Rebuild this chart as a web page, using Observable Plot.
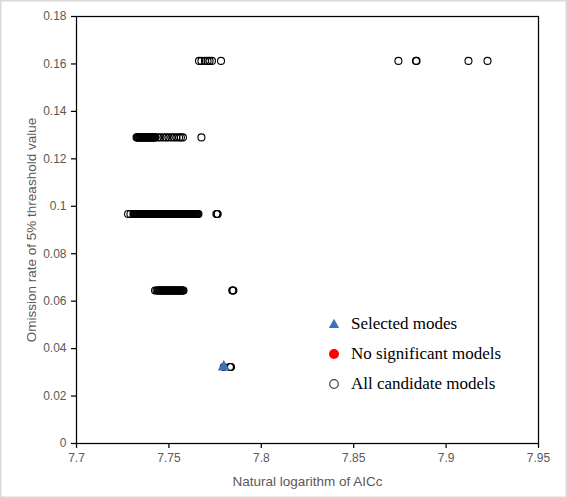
<!DOCTYPE html>
<html>
<head>
<meta charset="utf-8">
<script src="https://cdn.jsdelivr.net/npm/d3@7"></script>
<script src="https://cdn.jsdelivr.net/npm/@observablehq/plot@0.6"></script>
<style>
  body { margin: 0; background: white; }
  #wrap { position: relative; width: 567px; height: 498px; background: white; box-shadow: inset 0 0 0 1.5px #d9d9d9; }
  #chart svg { display: block; }
  #legend { position: absolute; left: 326px; top: 309px; font-family: "Liberation Serif", "Times New Roman", serif; font-size: 17px; color: #000; }
  .item { display: flex; align-items: center; height: 30px; }
  .item svg { width: 16px; height: 16px; margin-right: 9px; }
</style>
</head>
<body>
<div id="wrap">
  <div id="chart"></div>
  <div id="legend">
    <div class="item"><svg viewBox="-8 -8 16 16"><path d="M0,-5.2L5.2,4L-5.2,4Z" fill="#3b73b5"/></svg>Selected modes</div>
    <div class="item"><svg viewBox="-8 -8 16 16"><circle r="5" fill="#ff0000"/></svg>No significant models</div>
    <div class="item"><svg viewBox="-8 -8 16 16"><circle r="4.3" fill="none" stroke="#404040" stroke-width="1.2"/></svg>All candidate models</div>
  </div>
</div>
<script>
// omission rates (k / 31 test points)
const rates = [1 / 31, 2 / 31, 3 / 31, 4 / 31, 5 / 31];

// ln(AICc) of candidate models, one array per omission rate
const aicc1 = [7.7797, 7.7830, 7.7833, 7.7836];
const aicc2 = [7.7425, 7.7433, 7.7440, 7.7444, 7.7448, 7.7451, 7.7455, 7.7459, 7.7462, 7.7466, 7.7470,
  7.7473, 7.7477, 7.7481, 7.7484, 7.7488, 7.7492, 7.7495, 7.7499, 7.7503, 7.7506, 7.7510, 7.7514,
  7.7517, 7.7521, 7.7525, 7.7528, 7.7532, 7.7536, 7.7539, 7.7543, 7.7547, 7.7550, 7.7554, 7.7558,
  7.7561, 7.7565, 7.7569, 7.7572, 7.7576, 7.7579,
  7.7843, 7.7846, 7.7849];
const aicc3 = [7.7279, 7.7292, 7.7308, 7.7311, 7.7315, 7.7318, 7.7322, 7.7326, 7.7329, 7.7333, 7.7337,
  7.7340, 7.7344, 7.7348, 7.7351, 7.7355, 7.7359, 7.7362, 7.7366, 7.7370, 7.7373, 7.7377, 7.7381,
  7.7384, 7.7388, 7.7392, 7.7395, 7.7399, 7.7403, 7.7406, 7.7410, 7.7414, 7.7417, 7.7421, 7.7425,
  7.7428, 7.7432, 7.7436, 7.7439, 7.7443, 7.7447, 7.7450, 7.7454, 7.7458, 7.7461, 7.7465, 7.7469,
  7.7472, 7.7476, 7.7480, 7.7483, 7.7487, 7.7491, 7.7494, 7.7498, 7.7502, 7.7505, 7.7509, 7.7513,
  7.7516, 7.7520, 7.7524, 7.7527, 7.7531, 7.7535, 7.7538, 7.7542, 7.7546, 7.7549, 7.7553, 7.7557,
  7.7560, 7.7564, 7.7568, 7.7571, 7.7575, 7.7579, 7.7582, 7.7586, 7.7590, 7.7593, 7.7597, 7.7601,
  7.7604, 7.7608, 7.7612, 7.7615, 7.7619, 7.7623, 7.7626, 7.7630, 7.7634, 7.7637, 7.7641, 7.7645,
  7.7648, 7.7652, 7.7656, 7.7660,
  7.7757, 7.7761, 7.7764];
const aicc4 = [7.7325, 7.7329, 7.7332, 7.7336, 7.7340, 7.7343, 7.7347, 7.7351, 7.7354, 7.7358, 7.7362,
  7.7365, 7.7369, 7.7373, 7.7376, 7.7380, 7.7384, 7.7387, 7.7391, 7.7395, 7.7398, 7.7402, 7.7406,
  7.7409, 7.7413, 7.7417, 7.7420, 7.7424, 7.7427,
  7.7441, 7.7454, 7.7471, 7.7484, 7.7498, 7.7514, 7.7527, 7.7541, 7.7555, 7.7565, 7.7576, 7.7676];
const aicc5 = [7.7663, 7.7676, 7.7695, 7.7709, 7.7720, 7.7733, 7.7782, 7.8742, 7.8837, 7.8840,
  7.9121, 7.9224];

// selected model
const selectedAicc = [7.7797];
const selectedRate = [1 / 31];

const xTicks = [7.7, 7.75, 7.8, 7.85, 7.9, 7.95];
const yTicks = [0, 0.02, 0.04, 0.06, 0.08, 0.1, 0.12, 0.14, 0.16, 0.18];

const models = [aicc1, aicc2, aicc3, aicc4, aicc5]
  .flatMap((arr, i) => arr.map((v) => ({ aicc: v, omission: rates[i] })));
const selected = selectedAicc.map((v, i) => ({ aicc: v, omission: selectedRate[i] }));

const fmt = (d) => String(+d.toFixed(2));

const chart = Plot.plot({
  width: 567,
  height: 498,
  marginLeft: 76,
  marginRight: 29,
  marginTop: 16,
  marginBottom: 55,
  style: { fontFamily: "Liberation Sans, Arial, sans-serif", background: "transparent" },
  x: { domain: [7.7, 7.95] },
  y: { domain: [0, 0.18] },
  marks: [
    Plot.frame({ stroke: "black", strokeWidth: 1.25 }),
    Plot.axisX({
      ticks: xTicks, tickFormat: fmt, tickSize: 5, tickPadding: 5,
      stroke: "black", strokeWidth: 1.25, fill: "#595959", fontSize: 12,
      label: "Natural logarithm of AICc", labelAnchor: "center", labelArrow: "none", labelOffset: 42
    }),
    Plot.axisY({
      ticks: yTicks, tickFormat: fmt, tickSize: 5, tickPadding: 5,
      stroke: "black", strokeWidth: 1.25, fill: "#595959", fontSize: 12,
      label: "Omission rate of 5% threashold value", labelAnchor: "center", labelArrow: "none", labelOffset: 50
    }),
    Plot.dot(models, { x: "aicc", y: "omission", r: 3.5, stroke: "black", strokeWidth: 1.1, fill: "none" }),
    Plot.dot(selected, { x: "aicc", y: "omission", symbol: "triangle", r: 4.5, fill: "#3b73b5" })
  ]
});

// axis titles a little larger than the tick labels
d3.select(chart).selectAll('[aria-label="x-axis label"] text, [aria-label="y-axis label"] text')
  .attr("font-size", 13.5);

d3.select("#chart").append(() => chart);
</script>
</body>
</html>
